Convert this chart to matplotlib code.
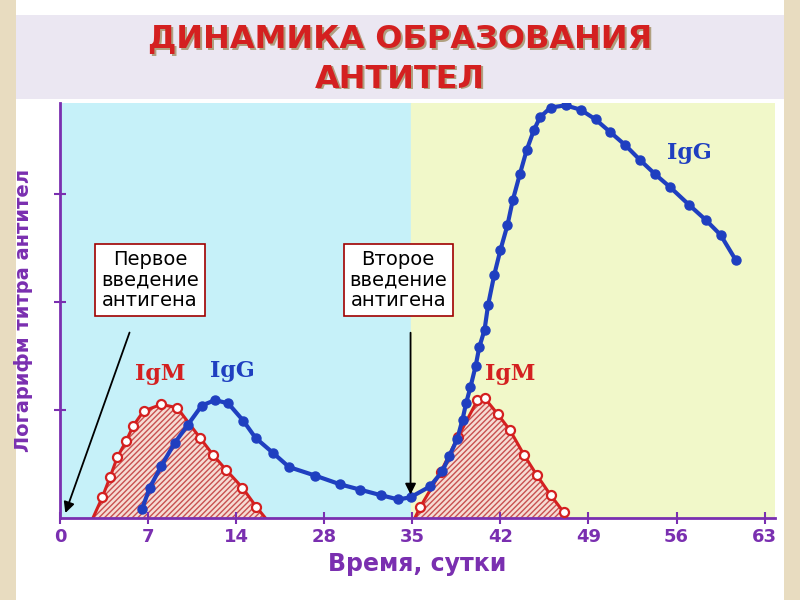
import numpy as np
import matplotlib
matplotlib.use("Agg")
import matplotlib.pyplot as plt
from matplotlib.patches import Rectangle

# ── данные (x — позиция деления, y — условные единицы) ───────────────
TICK_LABELS = ["0", "7", "14", "28", "35", "42", "49", "56", "63"]

IGM1_X = [0.375, 0.48, 0.57, 0.65, 0.75, 0.83, 0.95, 1.15, 1.33, 1.59, 1.74, 1.89, 2.07, 2.23, 2.33]
IGM1_Y = [0.0, 0.19, 0.38, 0.56, 0.71, 0.85, 0.99, 1.05, 1.02, 0.74, 0.58, 0.44, 0.28, 0.10, 0.0]

IGM2_X = [4.03, 4.09, 4.32, 4.52, 4.74, 4.82, 4.97, 5.11, 5.27, 5.41, 5.57, 5.72, 5.75]
IGM2_Y = [0.0, 0.10, 0.42, 0.75, 1.09, 1.11, 0.96, 0.81, 0.58, 0.40, 0.21, 0.05, 0.0]

IGG_X = [0.93, 1.02, 1.15, 1.30, 1.45, 1.61, 1.76, 1.91, 2.08, 2.22, 2.42, 2.60, 2.90, 3.18,
         3.41, 3.64, 3.84, 3.98, 4.20, 4.34, 4.42, 4.51, 4.57, 4.61, 4.66, 4.72, 4.76, 4.82,
         4.86, 4.93, 5.00, 5.08, 5.14, 5.22, 5.30, 5.38, 5.45, 5.57, 5.74, 5.91, 6.08, 6.25,
         6.42, 6.59, 6.76, 6.93, 7.14, 7.33, 7.50, 7.67]
IGG_Y = [0.08, 0.28, 0.48, 0.69, 0.86, 1.04, 1.09, 1.06, 0.90, 0.74, 0.60, 0.47, 0.39, 0.31,
         0.26, 0.21, 0.17, 0.19, 0.29, 0.43, 0.57, 0.73, 0.91, 1.06, 1.21, 1.41, 1.58, 1.74,
         1.97, 2.25, 2.48, 2.71, 2.94, 3.18, 3.41, 3.59, 3.71, 3.80, 3.82, 3.78, 3.69, 3.57,
         3.45, 3.31, 3.18, 3.06, 2.90, 2.76, 2.62, 2.39]

PURPLE = "#7a2fb0"
RED = "#d42020"
BLUE = "#1f3fc0"

fig = plt.figure(figsize=(8, 6), dpi=100)
fig.patch.set_facecolor("#e8dcc0")
fig.patches.append(Rectangle((0.02, 0.0), 0.96, 1.0, transform=fig.transFigure,
                             facecolor="white", edgecolor="none", zorder=-10))
fig.patches.append(Rectangle((0.02, 0.835), 0.96, 0.14, transform=fig.transFigure,
                             facecolor="#ebe7f2", edgecolor="none", zorder=-9))

for dx, col in ((0.0025, "#b0a080"), (0, RED)):
    fig.text(0.5 + dx, 0.935 - dx, "ДИНАМИКА ОБРАЗОВАНИЯ", ha="center", va="center",
             fontsize=23, fontweight="bold", color=col)
    fig.text(0.5 + dx, 0.868 - dx, "АНТИТЕЛ", ha="center", va="center",
             fontsize=23, fontweight="bold", color=col)

ax = fig.add_axes([0.075, 0.137, 0.894, 0.691])
ax.set_xlim(0, 8.12)
ax.set_ylim(0, 3.84)
ax.axvspan(0, 3.98, color="#c6f1f9", zorder=0)
ax.axvspan(3.98, 8.12, color="#f1f8c9", zorder=0)

for xs, ys in ((IGM1_X, IGM1_Y), (IGM2_X, IGM2_Y)):
    ax.fill(xs, ys, facecolor="#f6dcd4", edgecolor="#c85050", hatch="//////", linewidth=0, zorder=1)
    ax.plot(xs, ys, color=RED, lw=2.2, zorder=2)
    ax.plot(xs[1:-1], ys[1:-1], "o", ms=6.5, mfc="white", mec=RED, mew=1.6, zorder=3)

ax.plot(IGG_X, IGG_Y, "-o", color=BLUE, lw=3, ms=6.5, zorder=4)

serif = dict(family="DejaVu Serif", fontweight="bold", fontsize=16)
ax.text(1.14, 1.28, "IgM", color=RED, ha="center", **serif)
ax.text(1.96, 1.30, "IgG", color=BLUE, ha="center", **serif)
ax.text(5.11, 1.28, "IgM", color=RED, ha="center", **serif)
ax.text(7.14, 3.32, "IgG", color=BLUE, ha="center", **serif)

box = dict(boxstyle="square,pad=0.3", fc="white", ec="#a00000", lw=1.2)
ax.text(1.02, 2.2, "Первое\nвведение\nантигена", ha="center", va="center", fontsize=14,
        bbox=box, zorder=6, linespacing=1.1)
ax.text(3.84, 2.2, "Второе\nвведение\nантигена", ha="center", va="center", fontsize=14,
        bbox=box, zorder=6, linespacing=1.1)
ax.annotate("", xy=(0.05, 0.02), xytext=(0.80, 1.74),
            arrowprops=dict(arrowstyle="-|>", color="black", lw=1.3, mutation_scale=16), zorder=5)
ax.annotate("", xy=(3.98, 0.19), xytext=(3.98, 1.74),
            arrowprops=dict(arrowstyle="-|>", color="black", lw=1.3, mutation_scale=16), zorder=5)

ax.set_xticks(range(len(TICK_LABELS)))
ax.set_xticklabels(TICK_LABELS)
ax.set_yticks([1, 2, 3])
ax.set_yticklabels([])
ax.tick_params(colors=PURPLE, direction="inout", length=8, width=1.5, labelsize=13)
for lbl in ax.get_xticklabels():
    lbl.set_fontweight("bold")
for side in ("top", "right"):
    ax.spines[side].set_visible(False)
for side in ("left", "bottom"):
    ax.spines[side].set_color(PURPLE)
    ax.spines[side].set_linewidth(2)

ax.set_xlabel("Время, сутки", color=PURPLE, fontsize=17, fontweight="bold", labelpad=4)
ax.set_ylabel("Логарифм титра антител", color=PURPLE, fontsize=14, fontweight="bold", labelpad=12)

fig.savefig("out.png", dpi=100)
